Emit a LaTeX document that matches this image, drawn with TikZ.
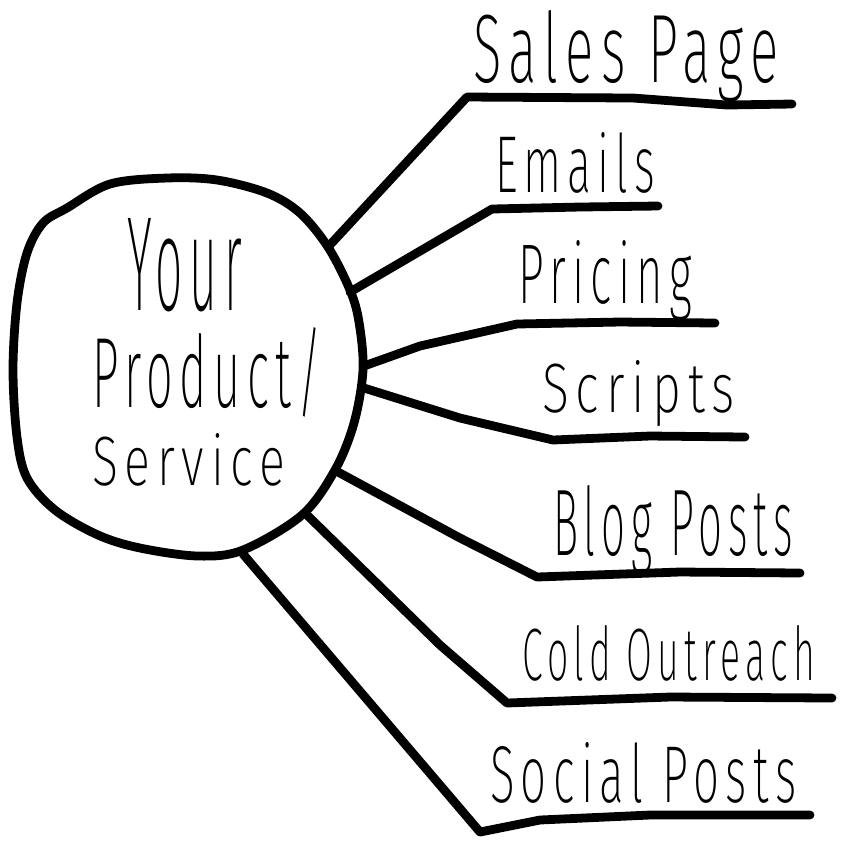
\documentclass[tikz,border=0pt]{standalone}
\usepackage{fontspec}
\setmainfont{Fira Sans ExtraLight}[LetterSpace=14]
\usepackage{graphicx}
\begin{document}
\begin{tikzpicture}[x=0.01cm,y=-0.01cm,
  heavy/.style={line width=2.5pt,line cap=round,line join=round,black},
  lbl/.style={inner sep=0pt,outer sep=0pt,anchor=base west}]
\useasboundingbox (0,0) rectangle (866,850);
% circle (hand drawn)
\draw[heavy] plot[smooth cycle,tension=0.55] coordinates {
 (167,178) (217,180) (267,193) (300,213) (328,247) (350,290) (359,322)
 (363,370) (354,423) (335,470) (302,515) (243,550) (198,556) (140,548)
 (98,535) (55,510) (27,478) (17,437) (13,370) (17,303) (27,253)
 (43,223) (67,208) (110,184)};
% anchor points on the circle
\coordinate (c1) at (328,247);
\coordinate (c2) at (350,292);
\coordinate (c3) at (364,366);
\coordinate (c4) at (364,388);
\coordinate (c5) at (338,472);
\coordinate (c6) at (306,514);
\coordinate (c7) at (243,554);
% kinks and ends
\coordinate (k1) at (467,97);  \coordinate (e1) at (792,104);
\coordinate (k2) at (492,209); \coordinate (e2) at (658,206);
\coordinate (k3) at (517,324); \coordinate (e3) at (715,323);
\coordinate (k4) at (553,440); \coordinate (e4) at (745,437);
\coordinate (k5) at (537,577); \coordinate (e5) at (800,573);
\coordinate (k6) at (507,703); \coordinate (e6) at (832,698);
\coordinate (k7) at (480,832); \coordinate (e7) at (810,815);
% branches
\draw[heavy] (c1) -- (k1) -- (633,98) -- (727,105) -- (e1);
\draw[heavy] (c2) -- (k2) -- (580,207) -- (e2);
\draw[heavy] (c3) -- (420,346) -- (k3) -- (620,322) -- (e3);
\draw[heavy] (c4) -- (460,418) -- (k4) -- (650,436) -- (e4);
\draw[heavy] (c5) -- (460,538) -- (k5) -- (680,572) -- (e5);
\draw[heavy] (c6) -- (440,645) -- (k6) -- (670,697) -- (e6);
\draw[heavy] (c7) -- (k7) -- (540,820) -- (650,815) -- (e7);
% circle text
\node[lbl] (your) at (127,310) {\resizebox{1.15cm}{0.92cm}{Your}};
\node[lbl] (prod) at (92,407) {\resizebox{2.30cm}{0.80cm}{Product/}};
\node[lbl] (serv) at (92,485) {\resizebox{1.93cm}{0.52cm}{Service}};
% labels
\node[lbl] (t1) at (473,82)  {\resizebox{3.06cm}{0.72cm}{Sales Page}};
\node[lbl] (t2) at (495,192) {\resizebox{1.60cm}{0.60cm}{Emails}};
\node[lbl] (t3) at (518,303) {\resizebox{1.74cm}{0.63cm}{Pricing}};
\node[lbl] (t4) at (542,412) {\resizebox{1.93cm}{0.52cm}{Scripts}};
\node[lbl] (t5) at (553,555) {\resizebox{2.40cm}{0.70cm}{Blog Posts}};
\node[lbl] (t6) at (522,680) {\resizebox{2.93cm}{0.55cm}{Cold Outreach}};
\node[lbl] (t7) at (490,802) {\resizebox{3.06cm}{0.60cm}{Social Posts}};
\end{tikzpicture}
\end{document}
